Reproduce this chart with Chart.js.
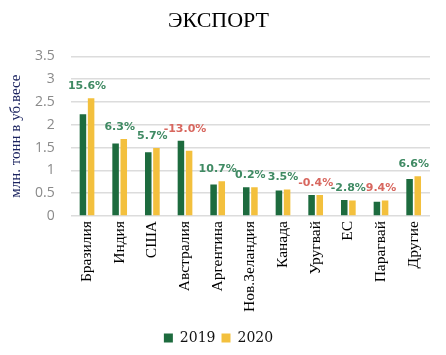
<!DOCTYPE html>
<html>
<head>
<meta charset="utf-8">
<script src="https://cdn.jsdelivr.net/npm/chart.js@4"></script>
<style>
  html, body { margin: 0; padding: 0; background: #fff; }
  #wrap { width: 446px; height: 355px; }
</style>
</head>
<body>
<div id="wrap"><canvas id="export_chart" width="446" height="355"></canvas></div>
<script>
var categories = ["Бразилия", "Индия", "США", "Австралия", "Аргентина", "Нов.Зеландия",
    "Канада", "Уругвай", "ЕС", "Парагвай", "Другие"];
var values2019 = [2.23, 1.59, 1.40, 1.65, 0.69, 0.63, 0.56, 0.46, 0.35, 0.31, 0.81];
var values2020 = [2.58, 1.69, 1.49, 1.43, 0.76, 0.63, 0.58, 0.46, 0.34, 0.34, 0.87];
var changeLabels = ["15.6%", "6.3%", "5.7%", "-13.0%", "10.7%", "0.2%", "3.5%", "-0.4%", "-2.8%", "9.4%", "6.6%"];
var changeUp = [true, true, true, false, true, true, true, false, true, false, true];
var yTicks = [0, 0.5, 1, 1.5, 2, 2.5, 3, 3.5];

// percent labels above each group
var changePlugin = {
    id: 'changeLabels',
    afterDatasetsDraw: function (chart) {
        var ctx = chart.ctx;
        var yScale = chart.scales.y;
        var xScale = chart.scales.x;
        ctx.save();
        ctx.font = "bold 11px 'DejaVu Sans', sans-serif";
        ctx.textAlign = 'center';
        ctx.textBaseline = 'middle';
        for (var i = 0; i < categories.length; i++) {
            var top = yScale.getPixelForValue(Math.max(values2019[i], values2020[i]));
            var x = xScale.getPixelForValue(i);
            ctx.fillStyle = changeUp[i] ? '#3f8a63' : '#d8675f';
            ctx.fillText(changeLabels[i], x, top - 12);
        }
        ctx.restore();
    }
};

var ctx_export = document.getElementById("export_chart");
var export_g = new Chart(ctx_export, {
    type: 'bar',
    data: {
        labels: categories,
        datasets: [{
            label: "2019",
            data: values2019,
            backgroundColor: "#1d6b3e",
            categoryPercentage: 0.5,
            barPercentage: 0.8
        }, {
            label: "2020",
            data: values2020,
            backgroundColor: "#f3c03d",
            categoryPercentage: 0.5,
            barPercentage: 0.8
        }]
    },
    options: {
        responsive: false,
        animation: false,
        layout: { padding: { left: 7, right: 16, top: 4, bottom: 0 } },
        plugins: {
            title: {
                display: true,
                text: "ЭКСПОРТ",
                color: "#000",
                font: { family: "'Liberation Serif', serif", size: 22, weight: 'normal' },
                padding: { top: 4, bottom: 22 }
            },
            legend: {
                position: 'bottom',
                labels: {
                    color: "#111",
                    font: { family: "'DejaVu Serif', serif", size: 14 },
                    boxWidth: 9,
                    boxHeight: 9,
                    padding: 6
                }
            },
            tooltip: { enabled: false }
        },
        scales: {
            x: {
                grid: { display: false, drawTicks: false },
                border: { display: false },
                afterFit: function (axis) { axis.height += 8; },
                ticks: {
                    color: "#000",
                    font: { family: "'Liberation Serif', serif", size: 15.5 },
                    maxRotation: 90,
                    minRotation: 90,
                    padding: 5
                }
            },
            y: {
                min: 0,
                max: 3.5,
                afterBuildTicks: function (axis) {
                    axis.ticks = yTicks.map(function (v) { return { value: v }; });
                },
                afterFit: function (axis) { axis.width -= 6; },
                grid: { color: "#dcdcdc", lineWidth: 1.5, drawTicks: false },
                border: { display: false },
                ticks: {
                    color: "#8a8a8a",
                    font: { family: "'Open Sans', sans-serif", size: 14 },
                    padding: 16,
                    callback: function (v) { return String(v); }
                },
                title: {
                    display: true,
                    text: "млн. тонн в уб.весе",
                    color: "#1c2460",
                    font: { family: "'Liberation Serif', serif", size: 15 },
                    padding: { top: 0, bottom: 0 }
                }
            }
        }
    },
    plugins: [changePlugin]
});
</script>
</body>
</html>
